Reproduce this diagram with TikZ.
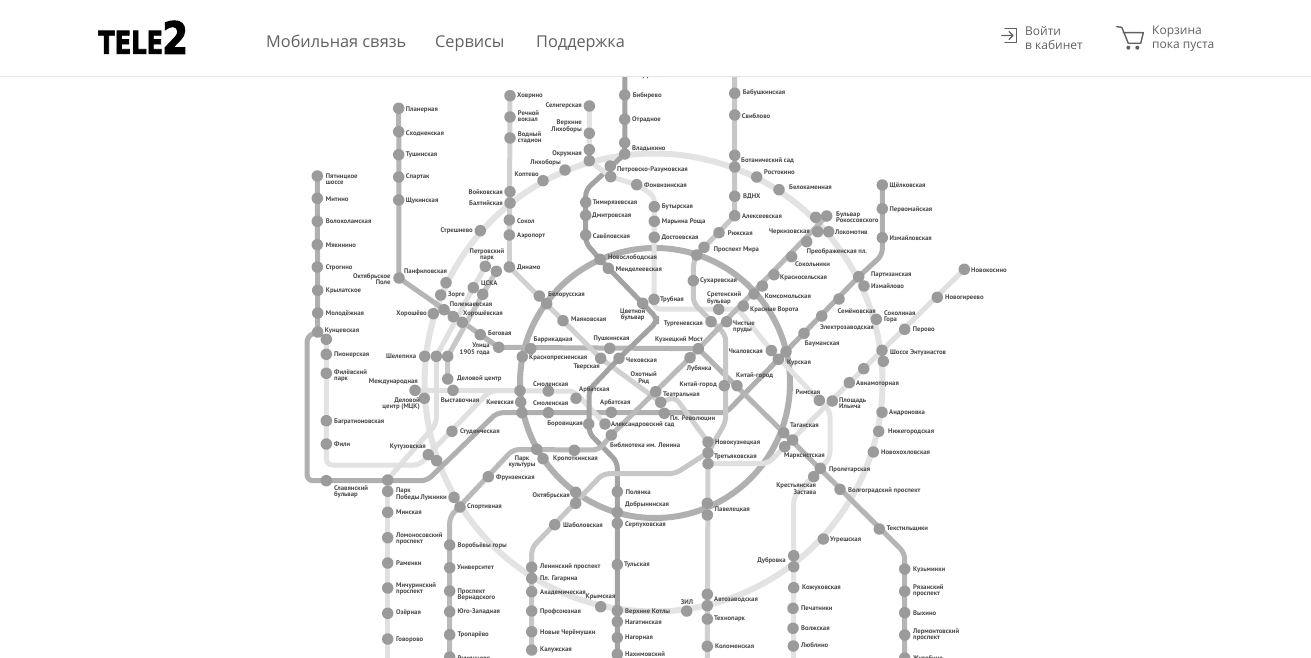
\documentclass[tikz,border=0pt]{standalone}
\usepackage{fontspec}
\setmainfont{Open Sans}
\newfontfamily\lblfont{PT Sans}[BoldFont={PT Sans Bold}]
\newfontfamily\logofont{DejaVu Sans}[BoldFeatures={FakeBold=2.5}]
\pgfdeclarelayer{bg}
\pgfdeclarelayer{fg}
\pgfsetlayers{bg,main,fg}
\definecolor{stc}{HTML}{9B9B9B}
\definecolor{txt}{HTML}{4A4A4A}
\tikzset{
 stn/.style={circle,fill=stc,minimum size=11.5pt,inner sep=0pt},
 lbl/.style={inner sep=0pt,text=txt,font=\lblfont\bfseries\fontsize{6.7}{6.2}\selectfont,align=left},
 nav/.style={inner sep=0pt,text=black!62,anchor=base west,font=\fontsize{16.3}{20}\selectfont},
 nav2/.style={inner sep=0pt,text=black!62,anchor=west,align=left,font=\fontsize{12}{14.5}\selectfont},
 ring/.style={line width=6pt,color=black!31},
 mcc/.style={line width=6pt,color=black!11},
 ln/.style={line width=5pt,rounded corners=6pt,color=#1},
 icon/.style={draw=black!62,line width=1.1pt,line join=round,line cap=round}
}
\newcommand{\mtw}[6]{\node[stn] (#1) at (#2,#3) {};\node[lbl,anchor=west] (#1-l) at (#4,#5) {#6};}
\newcommand{\mte}[6]{\node[stn] (#1) at (#2,#3) {};\node[lbl,anchor=east,align=right] (#1-l) at (#4,#5) {#6};}
\newcommand{\mtc}[6]{\node[stn] (#1) at (#2,#3) {};\node[lbl,align=center] (#1-l) at (#4,#5) {#6};}
\newcommand{\mtn}[3]{\node[stn] (#1) at (#2,#3) {};}
\newcommand{\mcd}[3]{\coordinate (#1) at (#2,#3);}
\begin{document}
\begin{tikzpicture}[x=1pt,y=-1pt]
\useasboundingbox (0,0) rectangle (1311,658);
% Planernaya line
\mtw{pla}{398.7}{108.3}{405.7}{110}{Планерная}
\mtw{skh}{398.7}{131.7}{405.7}{133.5}{Сходненская}
\mtw{tus}{398.7}{154.7}{405.7}{155}{Тушинская}
\mtw{spa}{398.7}{177}{405.7}{177}{Спартак}
\mtw{shu}{398.7}{200}{405.7}{200.5}{Щукинская}
\mte{okt}{399}{278}{390.7}{279.5}{Октябрьское\\Поле}
\node[lbl,anchor=west] (pan-l) at (404,271.5) {Панфиловская};
\mtn{pol}{444}{309.7}
\mtw{hor2}{453.3}{316.7}{449.7}{303.7}{Полежаевская}
\mtw{hrs}{462.3}{322.3}{463}{313.7}{Хорошёвская}
\mtw{beg}{480.3}{334.7}{488}{332.7}{Беговая}
\mte{ul}{498.7}{347.3}{490}{349}{Улица\\1905 года}
\mtw{bar}{530.7}{348.7}{533.5}{339.5}{Баррикадная}
\mtc{pus}{609.7}{348.3}{611.5}{339}{Пушкинская}
\mtc{kuz}{698.3}{348.7}{679}{339.7}{Кузнецкий Мост}
\mtw{tag}{783.7}{432.7}{790}{425.5}{Таганская}
\mtn{mar2}{792.7}{440}
\mtw{pro}{820.3}{468.3}{829}{469.5}{Пролетарская}
\mtw{vol}{840}{489.3}{848}{490.5}{Волгоградский проспект}
\mtw{tek}{879.3}{529}{886.5}{528.5}{Текстильщики}
\mtw{kuzm}{904.7}{569}{913}{569.5}{Кузьминки}
\mtw{rya}{904.7}{591.3}{913}{590.5}{Рязанский\\проспект}
\mtw{vyh}{904.7}{612.7}{913}{612.7}{Выхино}
\mtw{ler}{904.7}{635}{913}{634.5}{Лермонтовский\\проспект}
\mtw{zhu}{904.7}{658}{913}{658.5}{Жулебино}
% Arbatsko-Pokrovskaya
\mtw{pya}{317.3}{176}{325.7}{179.5}{Пятницкое\\шоссе}
\mtw{mit}{317.3}{198.3}{325.7}{199.5}{Митино}
\mtw{vlk}{317.3}{221.3}{325.7}{221.5}{Волоколамская}
\mtw{myk}{317.3}{244.7}{325.7}{245.5}{Мякинино}
\mtw{str}{317.3}{267}{325.7}{267.5}{Строгино}
\mtw{kry}{317.7}{290.3}{325.7}{290.5}{Крылатское}
\mtw{mol}{317.7}{313}{325.7}{313.5}{Молодёжная}
\mtw{kun}{317.7}{332}{324.7}{330.5}{Кунцевская}
\mtw{sla}{326.3}{480.7}{334}{491.5}{Славянский\\бульвар}
\mtn{ppb}{387.7}{480}
\mtw{ppb2}{387.7}{491.3}{396}{494.2}{Парк\\Победы}
\mtn{kv3}{522}{412.7}
\mtw{sm3}{548.3}{412.7}{533}{403}{Смоленская}
\mtw{arb2}{611.3}{412.3}{600}{402.7}{Арбатская}
\mtw{plr}{664.3}{413.3}{670}{418.7}{Пл. Революции}
\mtw{kur}{778.3}{359.3}{787}{362.7}{Курская}
\mtw{bau}{804}{333.3}{804.7}{343.7}{Бауманская}
\mte{ele}{821.7}{316}{874}{327.7}{Электрозаводская}
\mte{sem}{839}{299}{876}{310.7}{Семёновская}
\mtw{par}{858.7}{276.7}{871}{275}{Партизанская}
\mtw{izm}{882.3}{237.7}{889.5}{238.5}{Измайловская}
\mtw{per}{882.3}{208.7}{889.5}{209.5}{Первомайская}
\mtw{shch}{882.3}{185}{889.5}{185.5}{Щёлковская}
% Filyovskaya
\mtn{kun2}{326.3}{339.3}
\mtw{pio}{326.3}{354.3}{334}{354.5}{Пионерская}
\mtw{fil}{326.3}{373.3}{334}{376}{Филёвский\\парк}
\mtw{bag}{326.3}{420.7}{334}{421.5}{Багратионовская}
\mtw{fli}{326.3}{444}{334}{444.5}{Фили}
\mte{kut}{428.3}{454.7}{426}{446.5}{Кутузовская}
\mtn{kut2}{436.7}{460.7}
\mtw{stu}{452}{431.3}{460}{431.5}{Студенческая}
\mte{mez}{415}{390.3}{418}{381.5}{Международная}
\mtw{vys}{453}{390.3}{440.7}{400}{Выставочная}
\mtn{kv1}{520}{390.7}
\mte{kv2}{520.7}{402}{514}{401.7}{Киевская}
\mtw{sm1}{548.3}{391}{533}{384}{Смоленская}
\mtw{arb1}{576}{398.3}{579}{389.7}{Арбатская}
\mtw{als}{605}{424}{611}{425}{Александровский сад}
% Zamoskvoretskaya
\mtw{kho}{510}{95.7}{517}{95.5}{Ховрино}
\mtw{rec}{510}{117}{517.7}{116.5}{Речной\\вокзал}
\mtw{vod}{510}{138}{517.7}{137.7}{Водный\\стадион}
\mte{voy}{510}{191.7}{503}{191.7}{Войковская}
\mte{bal}{510}{203}{503}{203}{Балтийская}
\mtw{sok}{509.3}{220}{517}{220.7}{Сокол}
\mtw{aer}{509.3}{235}{517}{236}{Аэропорт}
\mtw{din}{509.3}{267}{517}{267.5}{Динамо}
\mtw{bel}{539.3}{296}{548}{294.7}{Белорусская}
\mtn{bel2}{546.7}{303.7}
\mtw{may}{563}{320.7}{571}{318.7}{Маяковская}
\mte{tve}{600.7}{358.3}{600}{366.7}{Тверская}
\mtc{okh}{655.7}{391.7}{643.7}{378}{Охотный\\Ряд}
\mtw{tea}{660.7}{402.3}{663}{394.7}{Театральная}
\mtw{nkz}{708}{442}{715}{442.7}{Новокузнецкая}
\mtn{tr2}{708}{452.7}
\mtn{pav}{707.3}{503.3}
\mtw{pav2}{707.3}{515}{714.7}{509.5}{Павелецкая}
\mtn{avt}{707.3}{594.3}
\mtw{avt2}{707.3}{605.7}{714}{599.7}{Автозаводская}
\mtw{tpk}{707.3}{619}{714}{618.5}{Технопарк}
\mtw{kol}{707.3}{646.3}{715}{646.5}{Коломенская}
% Serpukhovskaya
\node[lbl,anchor=west] (alt-l) at (632,75.5) {Алтуфьевская};
\mtw{bib}{624.7}{95}{632.7}{95.7}{Бибирево}
\mtw{otr}{624.7}{119.3}{632}{119.3}{Отрадное}
\mtw{vla}{624.7}{142.7}{632}{149}{Владыкино}
\mtn{vla2}{624.7}{154}
\mtw{pet}{610.3}{166}{617}{170}{Петровско-Разумовская}
\mtn{pet2}{610.7}{176.7}
\mtw{tim}{585.7}{202.3}{592.7}{202.7}{Тимирязевская}
\mtw{dmi}{585.7}{215.3}{592}{215.7}{Дмитровская}
\mtw{sav}{585.7}{235}{592.7}{235.7}{Савёловская}
\mtw{nov}{600}{259.3}{608}{257.7}{Новослободская}
\mtw{men}{608.3}{268.3}{615.7}{269.3}{Менделеевская}
\mtc{tsv}{642.7}{303.3}{632.7}{315}{Цветной\\бульвар}
\mtw{che}{619}{358.3}{626}{359.7}{Чеховская}
\mte{bor}{588.7}{424}{583}{424}{Боровицкая}
\mtw{pol2}{617.3}{491.7}{625.7}{491.7}{Полянка}
\mtw{dob}{617.3}{512.3}{625}{504.3}{Добрынинская}
\mtw{ser}{617.3}{523.3}{625}{525}{Серпуховская}
\mtw{tul}{617.3}{564.7}{624}{565}{Тульская}
\mtw{vko}{617.3}{610.7}{625}{611.5}{Верхние Котлы}
\mtw{nag}{617.3}{621.7}{625}{621.7}{Нагатинская}
\mtw{ngr}{617.3}{637.7}{625}{637.7}{Нагорная}
\mtw{nah}{617.3}{654.3}{625}{654}{Нахимовский}
% Lyublinskaya
\mte{sel}{589.3}{106}{582}{105.7}{Селигерская}
\mte{vlh}{589.3}{133.3}{582}{126.5}{Верхние\\Лихоборы}
\mte{okr}{589.3}{149.7}{582}{153.5}{Окружная}
\mtn{okr2}{589.3}{160.7}
\mtw{fon}{636.7}{184.7}{644}{185}{Фонвизинская}
\mtw{but}{654.3}{206.7}{661.7}{206.7}{Бутырская}
\mtw{mrs}{654.3}{221.3}{661.7}{221.7}{Марьина Роща}
\mtw{dos}{654.3}{237.3}{661.3}{237.3}{Достоевская}
\mtw{tru}{654}{299.3}{660}{299.7}{Трубная}
\mtw{sre}{718.7}{309.3}{707}{298}{Сретенский\\бульвар}
\mte{chk}{771.3}{350.5}{763}{350.7}{Чкаловская}
\mtc{rim}{819.3}{400.3}{808}{391.7}{Римская}
\mte{kza}{813.7}{476.7}{816.3}{488.7}{Крестьянская\\Застава}
\mtn{dub}{793.7}{555.7}
\mte{dub2}{793.7}{566.7}{786}{560.7}{Дубровка}
\mtw{koz}{793.7}{587.7}{802}{587.7}{Кожуховская}
\mtw{pec}{793}{608.3}{801}{608.5}{Печатники}
\mtw{vlz}{793}{628.3}{801}{628.5}{Волжская}
\mtw{lyu}{793.3}{646}{801}{645.5}{Люблино}
% Kaluzhskaya
\mtw{bab}{734.7}{93.3}{742.7}{92.7}{Бабушкинская}
\mtw{svi}{734.7}{115}{741.7}{115.7}{Свиблово}
\mtw{bot}{734.7}{155.3}{741}{160.7}{Ботанический сад}
\mtn{bot2}{734.7}{167}
\mtw{vdn}{734.7}{196.3}{743}{196.7}{ВДНХ}
\mtw{ale}{734.7}{215.7}{742}{215.7}{Алексеевская}
\mtw{rig}{719}{232.7}{727.7}{233.5}{Рижская}
\mtw{prm}{704}{247.3}{713.7}{249.7}{Проспект Мира}
\mtn{prm2}{696.7}{255}
\mtw{suh}{693.3}{280.7}{700}{280.7}{Сухаревская}
\mte{tur}{711}{321.7}{703}{324}{Тургеневская}
\mte{ktg}{724.3}{385.7}{717}{385}{Китай-город}
\mtn{tre}{708}{463.7}
\node[lbl,anchor=west] (tre-l) at (714,456.7) {Третьяковская};
\mtn{okb}{575.7}{492.3}
\mte{okb2}{575.7}{503.3}{570}{496}{Октябрьская}
\mtw{shb}{554.7}{524.7}{563}{524.7}{Шаболовская}
\mtw{len}{531.7}{567.3}{540}{567}{Ленинский проспект}
\mtw{aka}{531.7}{591.7}{540}{592.7}{Академическая}
\mtw{prf}{531.7}{611}{540}{611.5}{Профсоюзная}
\mtw{nch}{531.7}{631.7}{540}{632.5}{Новые Черёмушки}
\mtw{kal}{531.7}{650}{540}{649.5}{Калужская}
% Sokolnicheskaya
\mtw{brk}{826.7}{216}{836}{217}{Бульвар\\Рокоссовского}
\mte{chr}{817.7}{231.7}{810}{232}{Черкизовская}
\mtw{pre}{806.7}{241.7}{806.7}{251.7}{Преображенская пл.}
\mtw{skl}{791.7}{256.7}{795}{264}{Сокольники}
\mtw{krs}{774}{274.7}{780}{278.3}{Красносельская}
\mtn{kms2}{762.3}{286}
\mtw{kms}{754}{294}{764.7}{295.7}{Комсомольская}
\mtw{krv}{743.3}{306}{750}{310}{Красные Ворота}
\mtw{chp}{726.7}{321.7}{733}{327}{Чистые\\пруды}
\mtw{lub}{690}{357.7}{686.7}{368.7}{Лубянка}
\mtw{bib2}{611.3}{435}{610}{445}{Библиотека им. Ленина}
\mtc{kro}{574.3}{450.3}{575.5}{458.7}{Кропоткинская}
\mtn{pkk}{536.7}{449.3}
\mtc{pkk2}{543}{458.7}{522}{462}{Парк\\культуры}
\mtw{fru}{488.3}{476.7}{496}{477.5}{Фрунзенская}
\mtw{spo}{460}{507}{467}{507}{Спортивная}
\mtw{vor}{449.7}{545}{457.5}{545.5}{Воробьёвы горы}
\mtw{uni}{449.7}{567.7}{457}{567.5}{Университет}
\mtw{ver}{449.7}{591}{457.5}{594.5}{Проспект\\Вернадского}
\mtw{yuz}{449.7}{611.7}{457.5}{611.7}{Юго-Западная}
\mtw{trp}{449.7}{634.7}{457.5}{634.7}{Тропарёво}
\mtw{rum}{449.7}{657}{457.5}{658.5}{Румянцево}
% Kalininskaya
\mtw{nks}{964.3}{269.3}{971}{270.5}{Новокосино}
\mtw{ngi}{937.3}{297.3}{945}{297.5}{Новогиреево}
\mtw{prv}{904.7}{329.3}{912.7}{329.5}{Перово}
\mtw{she}{882}{350.3}{890}{353}{Шоссе Энтузиастов}
\mtn{she2}{883.3}{361.3}
\mtn{nnm}{863.7}{368.7}
\mtw{avi}{849.3}{382.7}{856}{383.5}{Авиамоторная}
\mtw{ily}{832.3}{401}{839}{403.5}{Площадь\\Ильича}
\mtw{mrk}{784.7}{446.7}{784}{455.7}{Марксистская}
% MCC and others
\mte{dc}{424.3}{398.3}{420}{404}{Деловой\\центр (МЦК)}
\mte{khr}{433.3}{313.7}{427}{313.5}{Хорошёво}
\mtw{zor}{440.7}{295}{448}{295}{Зорге}
\mtn{pan}{446}{282.7}
\mte{she1}{424.7}{356.3}{416.3}{356}{Шелепиха}
\mtn{she3}{436.3}{356.3}
\mtn{she4}{447.7}{356.3}
\mtw{dcn}{447.7}{379}{457}{379}{Деловой центр}
\mtn{css}{473.3}{287.7}
\mtw{csk}{482.7}{294.3}{481}{283.7}{ЦСКА}
\mtc{ptp}{485.3}{266.3}{487}{255}{Петровский\\парк}
\mtn{ptp2}{496.3}{271.3}
\mtw{krp}{522.3}{356.7}{529}{358}{Краснопресненская}
\mte{kop}{543}{180.7}{539}{174.7}{Коптево}
\mte{lik}{565}{170}{561}{162.7}{Лихоборы}
\mte{stv}{480.3}{230.7}{473}{231}{Стрешнево}
\mtw{ros}{756.7}{177}{764}{171.7}{Ростокино}
\mtw{blk}{779}{189.7}{789}{187.7}{Белокаменная}
\mtn{brk2}{815.7}{217.3}
\mtw{lok}{828.7}{231.7}{835}{232}{Локомотив}
\mtw{izl}{864}{286}{871}{285.7}{Измайлово}
\mtw{sgo}{876.3}{319.3}{884}{317}{Соколиная\\Гора}
\mtw{and}{882}{412.3}{889}{413}{Андроновка}
\mtw{nig}{878.7}{431.3}{888}{431.5}{Нижегородская}
\mtw{nhl}{873.3}{452}{881}{452.5}{Новохохловская}
\mtw{ugr}{823.3}{539}{830}{539.5}{Угрешская}
\mtc{zil}{686.7}{611}{687}{601.7}{ЗИЛ}
\mtc{kym}{600.7}{606.7}{600.5}{596.7}{Крымская}
\mtw{gag}{531.7}{578.3}{540}{578.5}{Пл. Гагарина}
\mte{luz}{454}{497.3}{447}{498}{Лужники}
\mtw{ktg2}{737}{385.7}{736}{376}{Китай-город}
\mtn{krs0}{786}{351.7}
\mtw{mim}{387.7}{512.3}{396}{512.5}{Минская}
\mtw{lom}{387.7}{537.7}{396}{538.5}{Ломоносовский\\проспект}
\mtw{ram}{387.7}{563}{396}{563.5}{Раменки}
\mtw{mic}{387.7}{588}{396}{588.5}{Мичуринский\\проспект}
\mtw{oze}{387.7}{613.3}{396}{613}{Озёрная}
\mtw{gov}{387.7}{639}{396}{639.5}{Говорово}
\begin{pgfonlayer}{bg}
 \fill[white] (0,0) rectangle (1311,658);
 % MCC and Koltsevaya rings
 \coordinate (mc) at (653.5,382.5);
 \draw[mcc] (mc) circle[radius=229pt];
 \coordinate (rc) at (655,383);
 \draw[ring] (rc) circle[radius=135pt];
 % helpers
 \mcd{a1}{307}{336}\mcd{a2}{307}{480.7}\mcd{a3}{427}{480.7}\mcd{a4}{497}{412.7}\mcd{a5}{726}{412.7}\mcd{a6}{882.3}{255}
 \draw[ln=black!31] (pya.center) -- (kun.center) -- (a1) -- (a2) -- (a3) -- (a4) -- (a5) -- (kur.center) -- (par.center) -- (a6) -- (shch.center);
 \mcd{t2}{904.7}{553}
 \draw[ln=black!29] (pla.center) -- (okt.center) -- (ul.center) -- (kuz.center) -- (tag.center) -- (t2) -- (zhu.center);
 \mcd{f1}{326.3}{465}\mcd{f2}{420}{465}\mcd{f3}{490}{390.7}
 \draw[ln=black!11] (kun2.center) -- (f1) -- (f2) -- (kut.center);
 \draw[ln=black!12] (kut.center) -- (f3) -- (kv1.center);
 \draw[ln=black!12] (mez.center) -- (kv1.center) -- (sm1.center);
 \mcd{f4}{574}{391}
 \draw[ln=black!12] (sm1.center) -- (f4) -- (als.center);
 \mcd{z1}{675}{397}\mcd{z2}{707.3}{670}
 \draw[ln=black!18] (kho.center) -- (din.center) -- (tve.center) -- (tea.center) -- (z1) -- (nkz.center) -- (z2);
 \mcd{s1}{625}{70}\mcd{s2}{585.7}{190}\mcd{s3}{585.7}{243}\mcd{s4}{656.7}{318}\mcd{s5}{656.7}{322}\mcd{s6}{589}{390}\mcd{s7}{589}{433}\mcd{s8}{617.3}{462}\mcd{s9}{617.3}{670}
 \draw[ln=black!36] (s1) -- (vla2.center) -- (s2) -- (s3) -- (nov.center) -- (s4) -- (s5) -- (che.center) -- (s6) -- (s7) -- (s8) -- (s9);
 \mcd{l1}{654.3}{196}\mcd{l2}{654}{309}\mcd{l3}{738}{309}\mcd{l4}{830}{411}\mcd{l5}{830}{458}\mcd{l6}{793.7}{497}\mcd{l7}{793.7}{670}
 \draw[ln=black!11] (sel.center) -- (okr2.center) -- (pet2.center) -- (fon.center) -- (l1) -- (but.center);
 \draw[ln=black!11] (but.center) -- (l2) -- (l3) -- (chk.center) -- (rim.center) -- (l4) -- (l5) -- (l6) -- (l7);
 \mcd{k1}{734.7}{70}\mcd{k2}{693.3}{263}\mcd{k3}{693.3}{303}\mcd{k4}{725.7}{335}\mcd{k5}{725.7}{422}\mcd{k6}{675}{473.7}\mcd{k7}{603}{473.7}\mcd{k8}{531.7}{548}
 \draw[ln=black!22] (k1) -- (ale.center) -- (prm2.center) -- (k2) -- (k3) -- (k4) -- (k5) -- (tr2.center) -- (k6) -- (k7) -- (k8) -- (kal.center);
 \mcd{r1}{598.7}{450}\mcd{r2}{513}{449.5}\mcd{r3}{449.7}{517}
 \draw[ln=black!27] (brk.center) -- (lub.center) -- (bib2.center) -- (r1) -- (r2) -- (r3) -- (rum.center);
 \mcd{q1}{768}{463.5}
 \draw[ln=black!12] (nks.center) -- (mrk.center) -- (q1) -- (tre.center);
 \mcd{c1}{436.3}{424}\mcd{c2}{400}{465}\mcd{c3}{387.7}{670}
 \draw[ln=black!12] (ppb.center) -- (c3);
 \draw[ln=black!12] (ppb.center) -- (c2) -- (c1) -- (she3.center) -- (css.center) -- (ptp.center);
 \draw[ln=black!22] (dcn.center) -- (she4.center) -- (csk.center) -- (ptp2.center);
\end{pgfonlayer}
\begin{pgfonlayer}{fg}
 \fill[white] (0,0) rectangle (1311,76);
 \draw[black!10,line width=1pt] (0,76.5) -- (1311,76.5);
 \node[anchor=south west,inner sep=0pt] (logoa) at (98,54) {\resizebox{65pt}{23pt}{\logofont\bfseries TELE}};
 \node[anchor=south west,inner sep=0pt] (logob) at (162,54) {\resizebox{26pt}{33pt}{\logofont\bfseries 2}};
 \node[nav] (n1) at (266,47.5) {Мобильная связь};
 \node[nav] (n2) at (435,47.5) {Сервисы};
 \node[nav] (n3) at (536,47.5) {Поддержка};
 \node[nav2] (n4) at (1025,38) {Войти\\в кабинет};
 \node[nav2] (n5) at (1152,38.5) {Корзина\\пока пуста};
 \draw[icon] (1005,28.3) -- (1016.7,28.3) -- (1016.7,42.7) -- (1005,42.7);
 \draw[icon] (1001.7,35.5) -- (1013,35.5) (1009,31.5) -- (1013,35.5) -- (1009,39.5);
 \draw[icon,line width=1.4pt] (1116.7,26.7) -- (1121.7,27.3) -- (1128.3,43.3) -- (1140.7,43.3) -- (1143.3,32.7) -- (1123.3,32.7);
 \fill[black!62] (1128.3,47.7) circle[radius=2pt] (1137.3,47.7) circle[radius=2pt];
\end{pgfonlayer}
\end{tikzpicture}
\end{document}
